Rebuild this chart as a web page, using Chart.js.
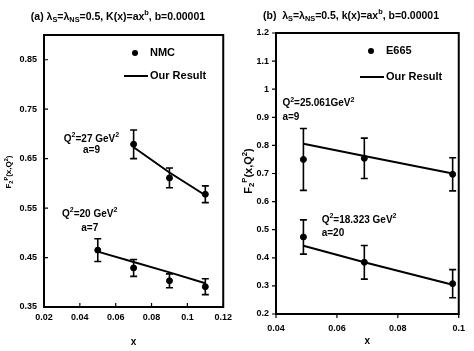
<!DOCTYPE html>
<html>
<head>
<meta charset="utf-8">
<script src="https://cdn.jsdelivr.net/npm/chart.js@4.4.0/dist/chart.umd.min.js"></script>
<style>
  body { margin: 0; background: #fff; width: 474px; height: 351px; overflow: hidden; position: relative; }
  .panel { position: absolute; top: 0; width: 237px; height: 351px; }
</style>
</head>
<body>
<div class="panel" style="left:0"><canvas id="chartA" width="237" height="351"></canvas></div>
<div class="panel" style="left:237px"><canvas id="chartB" width="237" height="351"></canvas></div>
<script>
const FONT = 'Arial, "Liberation Sans", sans-serif';

/* ── panel (a): NMC ── */
const A_Q27_X    = [0.07, 0.09, 0.11];
const A_Q27_DATA = [0.679, 0.611, 0.578];
const A_Q27_ERR  = [0.029, 0.020, 0.017];
const A_Q27_FIT  = [0.673, 0.622, 0.576];
const A_Q20_X    = [0.05, 0.07, 0.09, 0.11];
const A_Q20_DATA = [0.465, 0.429, 0.403, 0.391];
const A_Q20_ERR  = [0.023, 0.017, 0.014, 0.016];
const A_Q20_FIT  = [0.462, 0.441, 0.420, 0.398];
const A_X_TICKS  = [0.02, 0.04, 0.06, 0.08, 0.1, 0.12];
const A_Y_TICKS  = [0.35, 0.45, 0.55, 0.65, 0.75, 0.85];

/* ── panel (b): E665 ── */
const B_X        = [0.049, 0.069, 0.098];
const B_Q25_DATA = [0.750, 0.754, 0.697];
const B_Q25_ERR  = [0.110, 0.072, 0.059];
const B_Q25_FIT  = [0.806, 0.762, 0.700];
const B_Q18_DATA = [0.474, 0.384, 0.308];
const B_Q18_ERR  = [0.061, 0.060, 0.050];
const B_Q18_FIT  = [0.443, 0.384, 0.304];
const B_X_TICKS  = [0.04, 0.06, 0.08, 0.1];
const B_Y_TICKS  = [0.2, 0.3, 0.4, 0.5, 0.6, 0.7, 0.8, 0.9, 1, 1.1, 1.2];

const pts = (xs, ys) => xs.map((x, i) => ({ x, y: ys[i] }));

function dataset(xs, ys, err) {
  return {
    data: pts(xs, ys), err,
    showLine: false, pointRadius: 3, pointHoverRadius: 3,
    pointBackgroundColor: '#000', pointBorderColor: '#000', borderColor: '#000',
  };
}
function fitset(xs, ys) {
  return {
    data: pts(xs, ys), showLine: true, pointRadius: 0,
    borderColor: '#000', borderWidth: 2, tension: 0, fill: false,
  };
}

// text with sub/superscript parts: [text, '' | 'sub' | 'sup']
function richText(ctx, parts, x, y, size, align) {
  const font = s => 'bold ' + s + 'px ' + FONT;
  let w = 0;
  parts.forEach(p => { ctx.font = font(p[1] ? size * 0.7 : size); w += ctx.measureText(p[0]).width; });
  let cx = align === 'center' ? x - w / 2 : x;
  ctx.textAlign = 'left';
  ctx.textBaseline = 'middle';
  parts.forEach(p => {
    const s = p[1] ? size * 0.7 : size;
    const dy = p[1] === 'sub' ? size * 0.3 : p[1] === 'sup' ? -size * 0.35 : 0;
    ctx.font = font(s);
    ctx.fillText(p[0], cx, y + dy);
    cx += ctx.measureText(p[0]).width;
  });
}

const decoPlugin = {
  id: 'deco',
  afterDatasetsDraw(chart) {
    const d = chart.options.plugins.deco;
    const ctx = chart.ctx;
    const { left, right, top, bottom } = chart.chartArea;
    const xs = chart.scales.x, ys = chart.scales.y;
    ctx.save();
    ctx.fillStyle = '#000';
    ctx.strokeStyle = '#000';

    // error bars
    ctx.lineWidth = 1.6;
    chart.data.datasets.forEach(ds => {
      if (!ds.err) return;
      ds.data.forEach((p, i) => {
        const px = xs.getPixelForValue(p.x);
        const y1 = ys.getPixelForValue(p.y + ds.err[i]);
        const y2 = ys.getPixelForValue(p.y - ds.err[i]);
        ctx.beginPath();
        ctx.moveTo(px, y1); ctx.lineTo(px, y2);
        ctx.moveTo(px - 3.5, y1); ctx.lineTo(px + 3.5, y1);
        ctx.moveTo(px - 3.5, y2); ctx.lineTo(px + 3.5, y2);
        ctx.stroke();
      });
    });

    // frame and ticks
    ctx.lineWidth = 2;
    ctx.strokeRect(left, top, right - left, bottom - top);
    ctx.lineWidth = 1.2;
    const t = d.tickDir * 4;
    ctx.beginPath();
    ys.ticks.forEach(tk => {
      const py = ys.getPixelForValue(tk.value);
      ctx.moveTo(left, py); ctx.lineTo(left + t, py);
    });
    xs.ticks.forEach(tk => {
      const px = xs.getPixelForValue(tk.value);
      ctx.moveTo(px, bottom); ctx.lineTo(px, bottom - t);
    });
    ctx.stroke();

    // titles
    richText(ctx, d.title.parts, d.title.x, d.title.y, d.title.size, 'center');
    ctx.save();
    ctx.translate(d.ytitle.x, d.ytitle.y);
    ctx.rotate(-Math.PI / 2);
    richText(ctx, d.ytitle.parts, 0, 0, d.ytitle.size, 'center');
    ctx.restore();
    richText(ctx, [['x', '']], (left + right) / 2, d.xtitleY, 10, 'center');

    // legend
    const lg = d.legend;
    ctx.beginPath();
    ctx.arc(lg.dot[0], lg.dot[1], 3, 0, Math.PI * 2);
    ctx.fill();
    ctx.lineWidth = 2;
    ctx.beginPath();
    ctx.moveTo(lg.line[0], lg.line[2]); ctx.lineTo(lg.line[1], lg.line[2]);
    ctx.stroke();
    richText(ctx, [[lg.labels[0], '']], lg.textX, lg.dot[1], 11, 'left');
    richText(ctx, [[lg.labels[1], '']], lg.textX, lg.line[2], 11, 'left');

    // curve notes
    d.notes.forEach(n => {
      richText(ctx, n.parts, xs.getPixelForValue(n.x), ys.getPixelForValue(n.y), 10, n.align);
    });
    ctx.restore();
  }
};

function makeChart(id, datasets, cfg) {
  return new Chart(document.getElementById(id), {
    type: 'line',
    data: { datasets },
    plugins: [decoPlugin],
    options: {
      responsive: false,
      animation: false,
      devicePixelRatio: 1,
      layout: { padding: { left: 0, right: 10, top: cfg.top, bottom: 0 } },
      plugins: { legend: { display: false }, tooltip: { enabled: false }, deco: cfg.deco },
      scales: {
        x: {
          type: 'linear', min: cfg.xMin, max: cfg.xMax,
          grid: { display: false, drawTicks: false }, border: { display: false },
          afterBuildTicks: s => { s.ticks = cfg.xTicks.map(v => ({ value: v })); },
          afterFit: s => { s.height = cfg.xAxisH; },
          ticks: { color: '#000', padding: cfg.xPad, maxRotation: 0, autoSkip: false,
                   font: { family: FONT, size: 9, weight: 'bold' }, callback: v => String(v) },
        },
        y: {
          type: 'linear', min: cfg.yMin, max: cfg.yMax,
          grid: { display: false, drawTicks: false }, border: { display: false },
          afterBuildTicks: s => { s.ticks = cfg.yTicks.map(v => ({ value: v })); },
          afterFit: s => { s.width = cfg.yAxisW; },
          ticks: { color: '#000', padding: 7, autoSkip: false,
                   font: { family: FONT, size: 9, weight: 'bold' }, callback: v => String(v) },
        }
      }
    }
  });
}

/* ── (a) ── */
makeChart('chartA', [
  dataset(A_Q27_X, A_Q27_DATA, A_Q27_ERR),
  fitset(A_Q27_X, A_Q27_FIT),
  dataset(A_Q20_X, A_Q20_DATA, A_Q20_ERR),
  fitset(A_Q20_X, A_Q20_FIT),
], {
  top: 35, xAxisH: 44, yAxisW: 44, xPad: 5,
  xMin: 0.02, xMax: 0.12, yMin: 0.35, yMax: 0.9,
  xTicks: A_X_TICKS, yTicks: A_Y_TICKS,
  deco: {
    tickDir: 1,
    title: { x: 118, y: 17, size: 10.5, parts: [['(a) λ', ''], ['S', 'sub'], ['=λ', ''], ['NS', 'sub'], ['=0.5, K(x)=ax', ''], ['b', 'sup'], [', b=0.00001', '']] },
    ytitle: { x: 9, y: 172, size: 8, parts: [['F', ''], ['2', 'sub'], ['P', 'sup'], ['(x,Q', ''], ['2', 'sup'], [')', '']] },
    xtitleY: 342,
    legend: { dot: [135, 53], line: [124, 148, 76], textX: 150, labels: ['NMC', 'Our Result'] },
    notes: [
      { x: 0.0465, y: 0.690, align: 'center', parts: [['Q', ''], ['2', 'sup'], ['=27 GeV', ''], ['2', 'sup']] },
      { x: 0.0465, y: 0.667, align: 'center', parts: [['a=9', '']] },
      { x: 0.0455, y: 0.538, align: 'center', parts: [['Q', ''], ['2', 'sup'], ['=20 GeV', ''], ['2', 'sup']] },
      { x: 0.0455, y: 0.510, align: 'center', parts: [['a=7', '']] },
    ]
  }
});

/* ── (b) ── */
makeChart('chartB', [
  dataset(B_X, B_Q25_DATA, B_Q25_ERR),
  fitset(B_X, B_Q25_FIT),
  dataset(B_X, B_Q18_DATA, B_Q18_ERR),
  fitset(B_X, B_Q18_FIT),
], {
  top: 33, xAxisH: 37, yAxisW: 39, xPad: 9,
  xMin: 0.04, xMax: 0.1, yMin: 0.2, yMax: 1.2,
  xTicks: B_X_TICKS, yTicks: B_Y_TICKS,
  deco: {
    tickDir: -1,
    title: { x: 114, y: 16, size: 10.5, parts: [['(b)  λ', ''], ['S', 'sub'], ['=λ', ''], ['NS', 'sub'], ['=0.5, k(x)=ax', ''], ['b', 'sup'], [', b=0.00001', '']] },
    ytitle: { x: 12, y: 171, size: 11, parts: [['F', ''], ['2', 'sub'], ['P', 'sup'], ['(x,Q', ''], ['2', 'sup'], [')', '']] },
    xtitleY: 341,
    legend: { dot: [134, 51], line: [123, 147, 77], textX: 149, labels: ['E665', 'Our Result'] },
    notes: [
      { x: 0.0421, y: 0.950, align: 'left', parts: [['Q', ''], ['2', 'sup'], ['=25.061GeV', ''], ['2', 'sup']] },
      { x: 0.0421, y: 0.900, align: 'left', parts: [['a=9', '']] },
      { x: 0.0550, y: 0.535, align: 'left', parts: [['Q', ''], ['2', 'sup'], ['=18.323 GeV', ''], ['2', 'sup']] },
      { x: 0.0550, y: 0.489, align: 'left', parts: [['a=20', '']] },
    ]
  }
});
</script>
</body>
</html>
